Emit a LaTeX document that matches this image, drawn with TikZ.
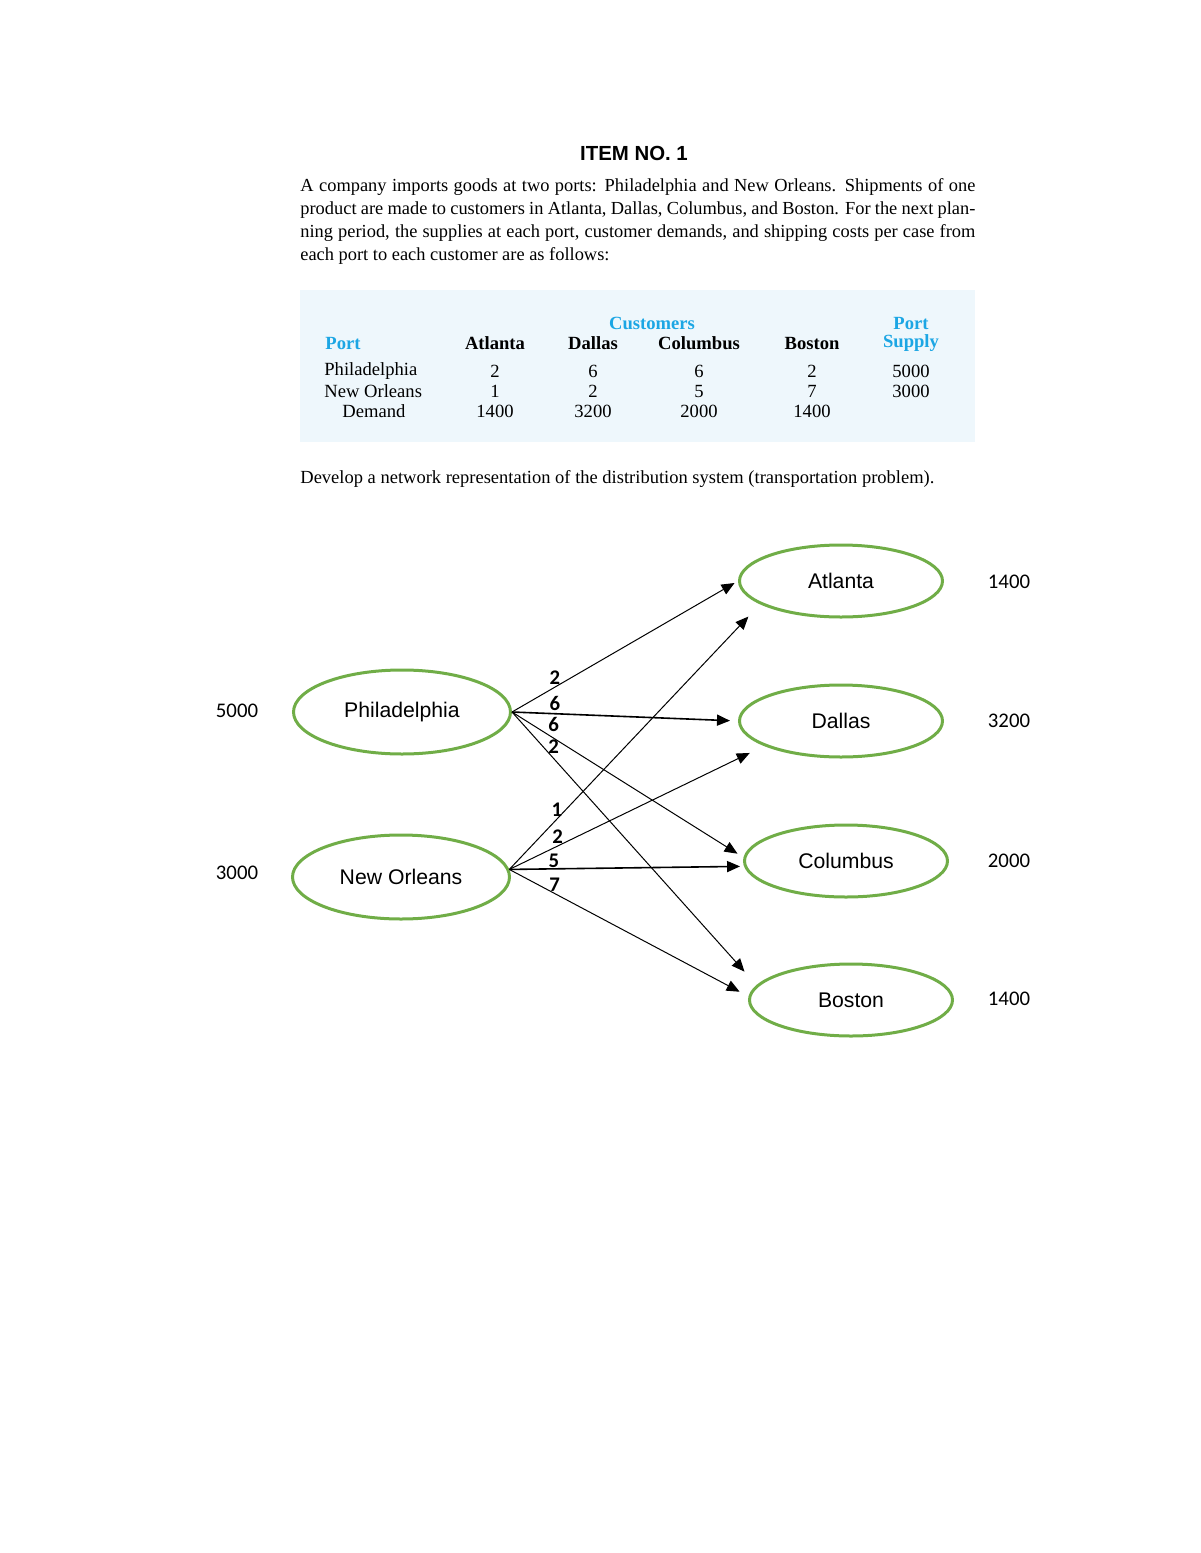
\documentclass[tikz,border=0pt]{standalone}
\usepackage{fontspec}
\setmainfont{Liberation Serif}
\newfontfamily\arialf{Liberation Sans}
\newfontfamily\calib{Carlito}
\usetikzlibrary{positioning, calc, arrows.meta, shapes.geometric}
\definecolor{Green}{HTML}{70AD47}
\definecolor{Cyan}{HTML}{1CA6E4}
\definecolor{TblBg}{HTML}{EEF7FC}
\tikzset{
    portnode/.style={ellipse, draw=Green, line width=1.5pt, minimum width=108.5pt, minimum height=42pt, font=\arialf\fontsize{10.6}{12}\selectfont},
    custnode/.style={ellipse, draw=Green, line width=1.5pt, minimum width=101.5pt, minimum height=36pt, font=\arialf\fontsize{10.6}{12}\selectfont},
    flow/.style={-{Triangle[length=6.5pt, width=5.5pt]}, line width=0.5pt, black},
    cost/.style={font=\calib\bfseries\fontsize{10.4}{12}\selectfont, above, inner sep=1pt},
    qty/.style={font=\calib\fontsize{10.4}{12}\selectfont, inner sep=0pt},
    tblhead/.style={font=\bfseries\fontsize{9.3}{11}\selectfont, inner sep=0pt},
    tblblue/.style={font=\bfseries\fontsize{9.3}{11}\selectfont, text=Cyan, inner sep=0pt},
    tblcell/.style={font=\fontsize{9.3}{11}\selectfont, inner sep=0pt},
}
\begin{document}
\begin{tikzpicture}[x=0.5pt, y=-0.5pt]
    \useasboundingbox (0,0) rectangle (1200,1553);

    % Titolo e testo
    \node[font=\arialf\bfseries\fontsize{10.2}{12}\selectfont] (title) at (634,153) {ITEM NO. 1};
    \node[anchor=north west, inner sep=0pt, text width=337.5pt, align=justify,
          font=\fontsize{9.2}{11.5}\selectfont] (intro) at (300,178)
        {A company imports goods at two ports: Philadelphia and New Orleans. Shipments of one\linebreak
         product are made to customers in Atlanta, Dallas, Columbus, and Boston. For the next plan-\linebreak
         ning period, the supplies at each port, customer demands, and shipping costs per case from\linebreak
         each port to each customer are as follows:};

    % Tabella
    \fill[TblBg] (300,290) rectangle (975,442);
    \node[tblblue] (cust) at (652,323) {Customers};
    \node[tblblue] (supA) at (911,323) {Port};
    \node[tblblue] (supB) at (911,343) {Supply};
    \node[tblblue, anchor=west] (portH) at (325,343) {Port};
    \foreach \name/\x in {Atlanta/495, Dallas/593, Columbus/699, Boston/812}
        \node[tblhead] (h\name) at (\x,343) {\name};
    \node[tblcell, anchor=west] (rPhl) at (324,371) {Philadelphia};
    \node[tblcell, anchor=west] (rNo) at (324,391) {New Orleans};
    \node[tblcell] (rDem) at (374,411) {Demand};
    \foreach \x/\a/\b/\d in {495/2/1/1400, 593/6/2/3200, 699/6/5/2000, 812/2/7/1400} {
        \node[tblcell] (a\x) at (\x,371) {\a};
        \node[tblcell] (b\x) at (\x,391) {\b};
        \node[tblcell] (d\x) at (\x,411) {\d};
    }
    \node[tblcell] (sPhl) at (911,371) {5000};
    \node[tblcell] (sNo) at (911,391) {3000};

    \node[anchor=west, inner sep=0pt, font=\fontsize{9.25}{11}\selectfont] (task) at (300,479)
        {Develop a network representation of the distribution system (transportation problem).};

    % Nodi della rete
    \node[portnode] (phl) at (402,712) {Philadelphia};
    \node[portnode] (no) at (401,877) {New Orleans};
    \node[custnode] (atl) at (841,581) {Atlanta};
    \node[custnode] (dal) at (841,721) {Dallas};
    \node[custnode] (col) at (846,861) {Columbus};
    \node[custnode] (bos) at (851,1000) {Boston};

    % Offerta e domanda
    \node[qty] (supPhl) at (237,711) {5000};
    \node[qty] (supNo) at (237,873) {3000};
    \node[qty] (demAtl) at (1009,582) {1400};
    \node[qty] (demDal) at (1009,721) {3200};
    \node[qty] (demCol) at (1009,861) {2000};
    \node[qty] (demBos) at (1009,999) {1400};

    % Archi con costi
    \draw[flow, shorten >=2pt] (phl.east) -- (atl.west) node[cost, pos=0.19] {2};
    \draw[flow, line width=0.8pt, shorten >=4pt] (phl.east) -- (dal.west) node[cost, pos=0.19] {6};
    \draw[flow, shorten >=3.5pt] (phl.east) -- (col.178) node[cost, pos=0.18, yshift=2pt] {6};
    \draw[flow, shorten >=9pt] (phl.east) -- (bos.171) node[cost, pos=0.17, yshift=1pt] {2};
    \draw[flow, shorten >=8.5pt] (no.4) -- (atl.196) node[cost, pos=0.19] {1};
    \draw[flow, shorten >=8pt] (no.4) -- (dal.198) node[cost, pos=0.19] {2};
    \draw[flow, line width=0.8pt, shorten >=2pt] (no.4) -- (col.183) node[cost, pos=0.19, inner sep=0pt] {5};
    \draw[flow, shorten >=5pt] (no.4) -- (bos.178) node[cost, pos=0.19] {7};
\end{tikzpicture}
\end{document}
